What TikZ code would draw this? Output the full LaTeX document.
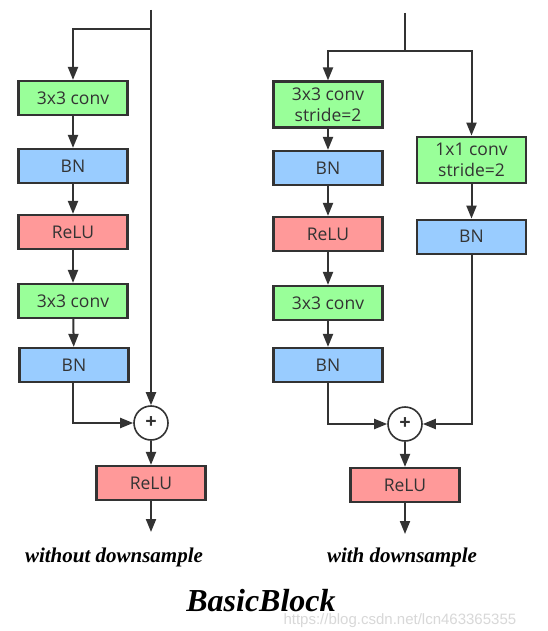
\documentclass[tikz,border=0pt]{standalone}
\usepackage{fontspec}
\setsansfont{Open Sans}
\newfontfamily\capfont{Liberation Serif}
\newfontfamily\wmfont{Liberation Sans}
\usetikzlibrary{arrows.meta}
\definecolor{ink}{HTML}{333333}
\definecolor{convgreen}{HTML}{99FF99}
\definecolor{bnblue}{HTML}{99CCFF}
\definecolor{relured}{HTML}{FF9999}
\definecolor{wmgray}{HTML}{D8D8D8}
\tikzset{
  blk/.style={draw=ink, line width=2.2pt, minimum width=109pt, minimum height=34pt,
    inner sep=0pt, text=ink, align=center, font=\sffamily\fontsize{17.5}{21}\selectfont},
  convbox/.style={blk, fill=convgreen},
  convtall/.style={blk, fill=convgreen, minimum height=46pt},
  bnbox/.style={blk, fill=bnblue},
  relubox/.style={blk, fill=relured},
  addnode/.style={circle, draw=ink, line width=1.6pt, fill=white, minimum size=34pt,
    inner sep=0pt, text=ink, font=\sffamily\bfseries\fontsize{20}{20}\selectfont},
  link/.style={draw=ink, line width=2pt},
  arr/.style={link, -{Triangle[length=13pt,width=10pt]}},
  caption/.style={font=\capfont\bfseries\itshape\fontsize{21}{21}\selectfont, text=black},
  title/.style={font=\capfont\bfseries\itshape\fontsize{32}{32}\selectfont, text=black},
  watermark/.style={font=\wmfont\fontsize{15}{15}\selectfont, text=wmgray}
}
\begin{document}
\begin{tikzpicture}[x=1pt, y=-1pt]
\useasboundingbox (0,0) rectangle (548,631);
\fill[white] (0,0) rectangle (548,631);

% ---------- left: without downsample ----------
\coordinate (topL) at (151,10);
\coordinate (brL) at (151,29);
\node[convbox] (c1L) at (73,98) {3x3 conv};
\node[bnbox] (b1L) at (73,166) {BN};
\node[relubox] (r1L) at (73,232) {ReLU};
\node[convbox] (c2L) at (73,301) {3x3 conv};
\node[bnbox] (b2L) at (74,365) {BN};
\node[addnode] (pL) at (151,423) {+};
\node[relubox] (r2L) at (151,483) {ReLU};
\coordinate (outL) at (151,532);

\draw[arr] (topL) -- (pL.north);
\draw[arr] (brL) -| (c1L.north);
\draw[arr] (c1L) -- (b1L);
\draw[arr] (b1L) -- (r1L);
\draw[arr] (r1L) -- (c2L);
\draw[arr] (c2L) -- (b2L);
\draw[arr] (b2L.south -| c2L.south) |- (pL.west);
\draw[arr] (pL) -- (r2L);
\draw[arr] (r2L) -- (outL);

% ---------- right: with downsample ----------
\coordinate (topR) at (405,13);
\coordinate (brR) at (405,51);
\node[convtall] (c1R) at (328,104.5) {3x3 conv\\stride=2};
\node[bnbox] (b1R) at (328,168) {BN};
\node[relubox] (r1R) at (328,234) {ReLU};
\node[convbox] (c2R) at (328,303) {3x3 conv};
\node[bnbox] (b2R) at (328,365) {BN};
\node[addnode] (pR) at (405,424) {+};
\node[relubox] (r2R) at (405,485) {ReLU};
\coordinate (outR) at (405,534);
\node[convtall] (dcR) at (471.5,159.7) {1x1 conv\\stride=2};
\node[bnbox] (dbR) at (471.5,236.7) {BN};

\draw[link] (topR) -- (brR);
\draw[arr] (brR) -| (c1R.north);
\draw[arr] (brR) -| (dcR.north);
\draw[arr] (c1R) -- (b1R);
\draw[arr] (b1R) -- (r1R);
\draw[arr] (r1R) -- (c2R);
\draw[arr] (c2R) -- (b2R);
\draw[arr] (b2R.south) |- (pR.west);
\draw[arr] (dcR) -- (dbR);
\draw[arr] (dbR.south) |- (pR.east);
\draw[arr] (pR) -- (r2R);
\draw[arr] (r2R) -- (outR);

% ---------- captions ----------
\node[caption] (capL) at (114,557) {without downsample};
\node[caption] (capR) at (402,557) {with downsample};
\node[title] (ttl) at (261,601) {BasicBlock};
\node[watermark, anchor=west] (wm) at (280,621) {https://blog.csdn.net/lcn463365355};
\end{tikzpicture}
\end{document}
